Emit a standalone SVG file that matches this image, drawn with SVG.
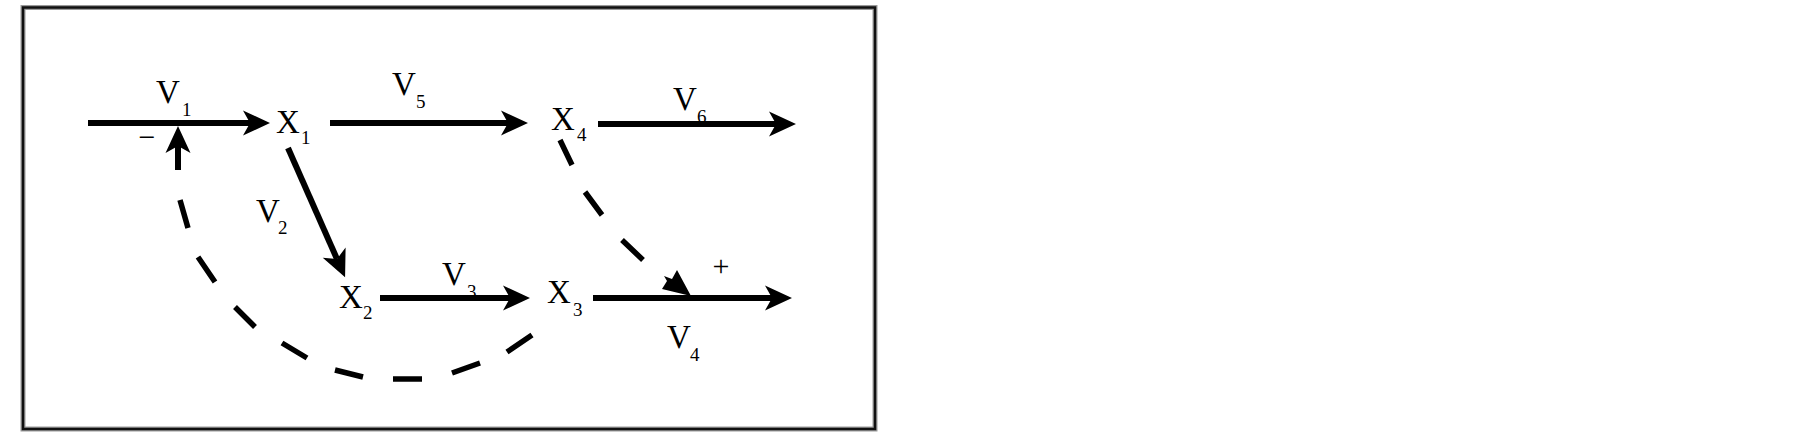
<svg xmlns="http://www.w3.org/2000/svg" width="1805" height="438" viewBox="0 0 1805 438">
<style>
.lab{font-family:"Liberation Serif","Times New Roman",serif;font-size:33px;fill:#000}
.sub{font-size:19px}
.sign{font-family:"Liberation Serif","Times New Roman",serif;font-size:30px;fill:#000}
.flow{stroke:#000;stroke-width:6;fill:none}
.dash{stroke:#000;stroke-width:5.5;fill:none;stroke-linecap:butt}
</style>
<defs>
<marker id="ah" markerUnits="userSpaceOnUse" viewBox="-9 -14 31 28" refX="0" refY="0" markerWidth="31" markerHeight="28" orient="auto">
<path d="M20,0 L-7,-12.5 L0,0 L-7,12.5 Z" fill="#000"/>
</marker>
</defs>
<rect x="0" y="0" width="1805" height="438" fill="#fff"/>
<rect id="frame" x="23" y="7.5" width="852" height="421.5" fill="none" stroke="#9a9a9a" stroke-width="5"/>
<rect x="23" y="7.5" width="852" height="421.5" fill="none" stroke="#111" stroke-width="2.5"/>
<g id="connectors">
<line class="flow" x1="88" y1="123" x2="250" y2="123" marker-end="url(#ah)"/>
<line class="flow" x1="330" y1="123" x2="508" y2="123" marker-end="url(#ah)"/>
<line class="flow" x1="598" y1="124" x2="776" y2="124" marker-end="url(#ah)"/>
<line class="flow" x1="288" y1="148" x2="337" y2="259" marker-end="url(#ah)"/>
<line class="flow" x1="380" y1="298" x2="510" y2="298" marker-end="url(#ah)"/>
<line class="flow" x1="593" y1="298" x2="772" y2="298" marker-end="url(#ah)"/>
<line class="flow" x1="178" y1="170" x2="178" y2="146" marker-end="url(#ah)"/>
<path class="dash" d="M180,200 L188,228 M198,257 L215,282 M235,307 L255,327 M282,343 L307,358 M335,370 L363,377 M393,379 L422,379 M452,373 L480,363 M507,352 L532,335"/>
<path class="dash" d="M560,140 L572,165 M585,192 L602,215 M622,240 L643,260"/>
<path d="M691,296 L662,289 L667,281 L664,276 L672,279 L677,270 Z" fill="#000"/>
</g>
<g id="X1"><text class="lab" x="276" y="133">X</text><text class="lab sub" x="301" y="144">1</text></g>
<g id="X2"><text class="lab" x="339" y="308">X</text><text class="lab sub" x="363" y="319">2</text></g>
<g id="X3"><text class="lab" x="547" y="303">X</text><text class="lab sub" x="573" y="316">3</text></g>
<g id="X4"><text class="lab" x="551" y="130">X</text><text class="lab sub" x="577" y="141">4</text></g>
<g id="labels">
<text class="lab" x="156" y="103">V</text><text class="lab sub" x="182" y="116">1</text>
<text class="lab" x="256" y="222">V</text><text class="lab sub" x="278" y="234">2</text>
<text class="lab" x="442" y="285">V</text><text class="lab sub" x="467" y="298">3</text>
<text class="lab" x="667" y="348">V</text><text class="lab sub" x="690" y="361">4</text>
<text class="lab" x="392" y="95">V</text><text class="lab sub" x="416" y="108">5</text>
<text class="lab" x="673" y="110">V</text><text class="lab sub" x="697" y="123">6</text>
<text class="sign" x="147" y="147" text-anchor="middle">−</text>
<text class="sign" x="721" y="276" text-anchor="middle">+</text>
</g>
</svg>
